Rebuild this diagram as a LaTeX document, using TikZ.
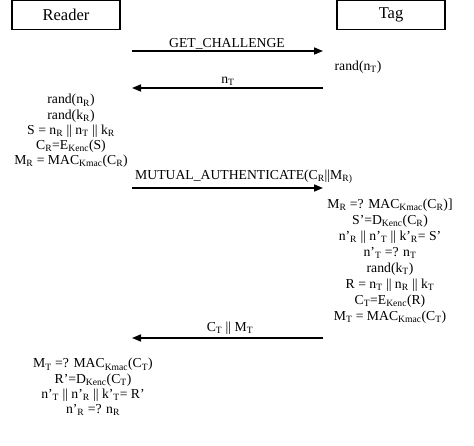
\documentclass[tikz,border=0pt]{standalone}
\usepackage{fontspec}
\setmainfont{Liberation Serif}
\usetikzlibrary{arrows.meta}
\newcommand\sbs[1]{\textsubscript{#1}}
\tikzset{
  party/.style={draw=black, line width=1.1pt, minimum width=108pt, minimum height=29pt, inner sep=0pt, font=\fontsize{16.5}{18}\selectfont},
  msg/.style={line width=1.6pt, -{Triangle[length=9pt,width=7pt]}},
  calc/.style={align=center, inner sep=0pt, font=\fontsize{13.7}{15.2}\selectfont},
  calcr/.style={align=center, inner sep=0pt, font=\fontsize{13.7}{16}\selectfont},
  lbl/.style={inner sep=0pt, font=\fontsize{13.7}{15}\selectfont}
}
\begin{document}
\begin{tikzpicture}[x=1pt,y=-1pt]
\useasboundingbox (0,0) rectangle (474,446);
\node[party] (reader) at (66,15) {Reader};
\node[party] (tag) at (391,15) {Tag};

\coordinate (l1) at (132,51);  \coordinate (r1) at (323,51);
\coordinate (l2) at (132,88);  \coordinate (r2) at (323,88);
\coordinate (l3) at (132,188); \coordinate (r3) at (323,188);
\coordinate (l4) at (132,338); \coordinate (r4) at (323,338);

\draw[msg] (l1) -- (r1);
\node[lbl] (m1) at (227,44) {GET\_CHALLENGE};
\node[lbl] (randnt) at (358,67) {rand(n\sbs{T})};
\draw[msg] (r2) -- (l2);
\node[lbl] (m2) at (228,81) {n\sbs{T}};

\node[calc] (rcalc) at (71,131) {rand(n\sbs{R})\\ rand(k\sbs{R})\\ S = n\sbs{R} || n\sbs{T} || k\sbs{R}\\ C\sbs{R}=E\sbs{Kenc}(S)\\ M\sbs{R} = MAC\sbs{Kmac}(C\sbs{R})};

\node[lbl, anchor=west] (m3) at (135,177) {MUTUAL\_AUTHENTICATE(C\sbs{R}||M\sbs{R)}};
\draw[msg] (l3) -- (r3);

\node[calcr] (tcalc) at (390,261) {M\sbs{R} =? MAC\sbs{Kmac}(C\sbs{R})]\\ S’=D\sbs{Kenc}(C\sbs{R})\\ n’\sbs{R} || n’\sbs{T} || k’\sbs{R}= S’\\ n’\sbs{T} =? n\sbs{T}\\ rand(k\sbs{T})\\ R = n\sbs{T} || n\sbs{R} || k\sbs{T}\\ C\sbs{T}=E\sbs{Kenc}(R)\\ M\sbs{T} = MAC\sbs{Kmac}(C\sbs{T})};

\draw[msg] (r4) -- (l4);
\node[lbl] (m4) at (230,328) {C\sbs{T} || M\sbs{T}};

\node[calc] (rcalc2) at (93,387) {M\sbs{T} =? MAC\sbs{Kmac}(C\sbs{T})\\ R’=D\sbs{Kenc}(C\sbs{T})\\ n’\sbs{T} || n’\sbs{R} || k’\sbs{T}= R’\\ n’\sbs{R} =? n\sbs{R}};
\end{tikzpicture}
\end{document}
